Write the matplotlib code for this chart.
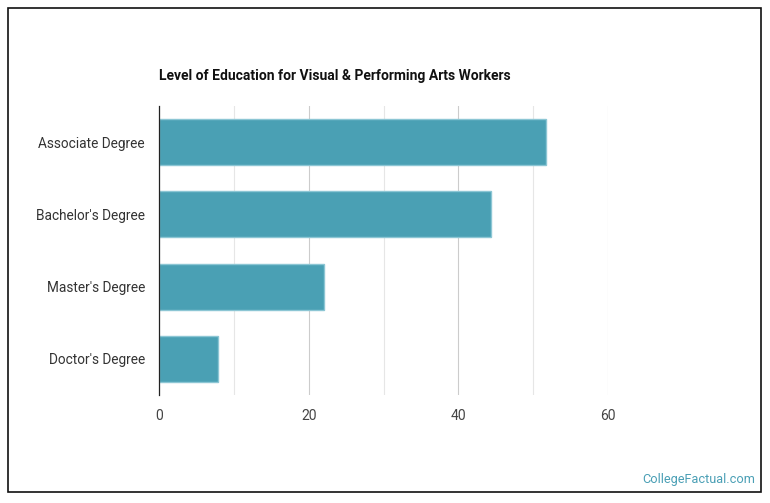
import matplotlib.pyplot as plt
from matplotlib.patches import Rectangle
from matplotlib.ticker import MultipleLocator

plt.rcParams['font.family'] = ['Roboto', 'DejaVu Sans']

degrees = ["Doctor's Degree", "Master's Degree", "Bachelor's Degree", "Associate Degree"]
shares = [7.9, 22.0, 44.4, 51.7]
x_ticks = [0, 20, 40, 60]

bar_color = '#4aa0b4'
edge_color = '#8cc6d4'

fig = plt.figure(figsize=(7.7, 5.03), dpi=100)
ax = fig.add_axes([159 / 770, 1 - 395 / 503, (608 - 159) / 770, (395 - 106) / 503])

ax.barh(range(len(degrees)), shares, height=0.64, color=bar_color,
        edgecolor=edge_color, linewidth=1, zorder=3)

ax.set_xlim(0, 60)
ax.set_ylim(-0.5, 3.5)
ax.set_yticks(range(len(degrees)))
ax.set_yticklabels(degrees, fontsize=9.8, color='#333333')
ax.set_xticks(x_ticks)
ax.set_xticklabels([str(t) for t in x_ticks], fontsize=10, color='#444444')
ax.xaxis.set_minor_locator(MultipleLocator(10))
ax.tick_params(axis='both', which='both', length=0)
ax.tick_params(axis='x', pad=10)
ax.tick_params(axis='y', pad=10)

ax.grid(axis='x', which='major', color='#cccccc', linewidth=0.8, zorder=0)
ax.grid(axis='x', which='minor', color='#e6e6e6', linewidth=0.8, zorder=0)

for s in ['top', 'right', 'bottom']:
    ax.spines[s].set_visible(False)
ax.spines['left'].set_color('#222222')
ax.spines['left'].set_linewidth(0.9)
ax.spines['left'].set_zorder(4)

fig.text(159 / 770, 1 - 76 / 503, 'Level of Education for Visual & Performing Arts Workers',
         fontsize=10, fontweight='bold', color='#111111', ha='left', va='center')
fig.text(755 / 770, 1 - 480 / 503, 'CollegeFactual.com', fontsize=9.2,
         color='#4a9fb5', ha='right', va='center')

fig.patches.append(Rectangle((8 / 770, 1 - 492 / 503), (761 - 8) / 770, (492 - 8) / 503,
                             transform=fig.transFigure, fill=False,
                             edgecolor='#111111', linewidth=1.2))

fig.savefig('out.png', dpi=100)
